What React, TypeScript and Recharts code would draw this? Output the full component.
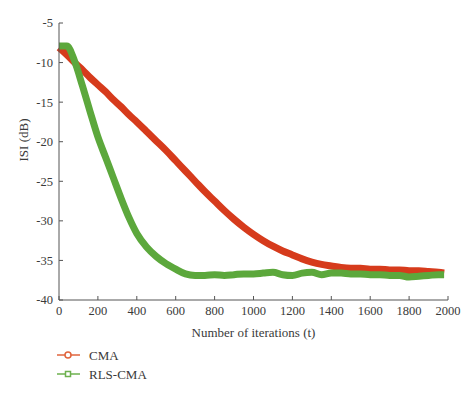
import { Line, LineChart, XAxis, YAxis } from "recharts";

// iteration counts sampled along both curves
const iterations = [
  0, 40, 80, 120, 160, 200, 240, 280, 320, 360, 400, 450, 500, 550, 600, 650,
  700, 750, 800, 850, 900, 950, 1000, 1050, 1100, 1150, 1200, 1250, 1300,
  1350, 1400, 1450, 1500, 1550, 1600, 1650, 1700, 1750, 1800, 1850, 1900,
  1950, 1980,
];

const cma = [
  -8.1, -9.0, -10.0, -10.9, -11.9, -12.8, -13.7, -14.7, -15.6, -16.6, -17.5,
  -18.7, -19.9, -21.1, -22.4, -23.7, -25.0, -26.3, -27.5, -28.7, -29.8, -30.8,
  -31.7, -32.5, -33.2, -33.8, -34.3, -34.8, -35.2, -35.5, -35.7, -35.9, -36.0,
  -36.0, -36.1, -36.1, -36.2, -36.2, -36.3, -36.3, -36.4, -36.5, -36.6,
];

const rlsCma = [
  -7.9, -7.9, -9.8, -12.9, -16.2, -19.4, -22.0, -24.6, -27.2, -29.6, -31.6,
  -33.3, -34.5, -35.4, -36.1, -36.7, -36.9, -36.9, -36.8, -36.9, -36.8, -36.7,
  -36.7, -36.6, -36.5, -36.8, -36.9, -36.6, -36.5, -36.8, -36.6, -36.6, -36.7,
  -36.7, -36.8, -36.8, -36.9, -36.9, -37.1, -37.0, -36.9, -36.8, -36.8,
];

const xTicks = [0, 200, 400, 600, 800, 1000, 1200, 1400, 1600, 1800, 2000];
const yTicks = [-40, -35, -30, -25, -20, -15, -10, -5];

const cmaData = iterations.map((t, i) => ({ t, v: cma[i] }));
const rlsData = iterations.map((t, i) => ({ t, v: rlsCma[i] }));

const FONT = "'Liberation Serif', 'DejaVu Serif', serif";
const AXIS = "#555";
const TEXT = "#3a3a3a";
const RED = "#d63b1c";
const GREEN = "#5ca83c";

export default function App() {
  return (
    <div
      style={{
        position: "absolute",
        left: 0,
        top: 0,
        width: 474,
        height: 395,
        background: "#fff",
        fontFamily: FONT,
      }}
    >
      <LineChart
        width={474}
        height={395}
        margin={{ top: 23, right: 26, left: 0, bottom: 65 }}
      >
        <XAxis
          dataKey="t"
          type="number"
          domain={[0, 2000]}
          ticks={xTicks}
          allowDuplicatedCategory={false}
          height={30}
          stroke={AXIS}
          tickSize={-4}
          tickMargin={10}
          tick={{ fill: TEXT, fontSize: 12.5, fontFamily: FONT }}
          label={{
            value: "Number of iterations (t)",
            position: "insideBottom",
            offset: -7,
            fill: TEXT,
            fontSize: 13,
            fontFamily: FONT,
          }}
        />
        <YAxis
          type="number"
          domain={[-40, -5]}
          ticks={yTicks}
          width={59}
          stroke={AXIS}
          tickSize={-4}
          tickMargin={10}
          tick={{ fill: TEXT, fontSize: 12.5, fontFamily: FONT }}
          label={{
            value: "ISI (dB)",
            angle: -90,
            position: "insideLeft",
            offset: 23,
            fill: TEXT,
            fontSize: 13,
            fontFamily: FONT,
          }}
        />
        <Line
          data={cmaData}
          dataKey="v"
          type="monotone"
          stroke={RED}
          strokeWidth={7}
          strokeLinejoin="round"
          dot={false}
          isAnimationActive={false}
        />
        <Line
          data={rlsData}
          dataKey="v"
          type="monotone"
          stroke={GREEN}
          strokeWidth={7}
          strokeLinejoin="round"
          dot={false}
          isAnimationActive={false}
        />
      </LineChart>
      <svg
        width={200}
        height={40}
        style={{ position: "absolute", left: 50, top: 344 }}
      >
        <line x1={7} x2={30} y1={11} y2={11} stroke="#e0643c" strokeWidth={1.5} />
        <circle cx={18} cy={11} r={3} fill="#fff" stroke="#e0643c" strokeWidth={1.5} />
        <text x={39} y={11} dy="0.35em" fill={TEXT} fontSize={13} fontFamily={FONT}>
          CMA
        </text>
        <line x1={7} x2={30} y1={30} y2={30} stroke="#6cb04e" strokeWidth={1.5} />
        <rect x={15.5} y={27.5} width={5} height={5} fill="#fff" stroke="#6cb04e" strokeWidth={1.5} />
        <text x={39} y={30} dy="0.35em" fill={TEXT} fontSize={13} fontFamily={FONT}>
          RLS-CMA
        </text>
      </svg>
    </div>
  );
}
